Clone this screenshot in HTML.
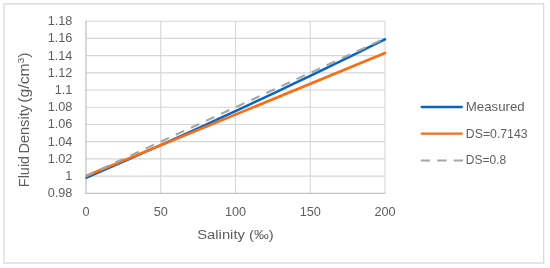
<!DOCTYPE html>
<html><head><meta charset="utf-8"><title>Fluid density vs salinity</title>
<style>
html,body{margin:0;padding:0;background:#fff;}
svg{display:block;}
text{font-family:"Liberation Sans",sans-serif;fill:#5e5e5e;}
.t{font-size:12.7px;}
.a{font-size:13.7px;}
.v{font-size:14.4px;}
.l{font-size:11.9px;}
</style></head><body>
<svg width="550" height="268" viewBox="0 0 550 268">
<rect width="550" height="268" fill="#fff"/>
<rect x="4" y="3.8" width="539.7" height="259.2" fill="#fff" stroke="#d9d9d9" stroke-width="1.3"/>
<line x1="86.0" y1="176.09" x2="385.0" y2="176.09" stroke="#d6d6d6" stroke-width="1.1"/>
<line x1="86.0" y1="158.88" x2="385.0" y2="158.88" stroke="#d6d6d6" stroke-width="1.1"/>
<line x1="86.0" y1="141.67" x2="385.0" y2="141.67" stroke="#d6d6d6" stroke-width="1.1"/>
<line x1="86.0" y1="124.46" x2="385.0" y2="124.46" stroke="#d6d6d6" stroke-width="1.1"/>
<line x1="86.0" y1="107.25" x2="385.0" y2="107.25" stroke="#d6d6d6" stroke-width="1.1"/>
<line x1="86.0" y1="90.04" x2="385.0" y2="90.04" stroke="#d6d6d6" stroke-width="1.1"/>
<line x1="86.0" y1="72.83" x2="385.0" y2="72.83" stroke="#d6d6d6" stroke-width="1.1"/>
<line x1="86.0" y1="55.62" x2="385.0" y2="55.62" stroke="#d6d6d6" stroke-width="1.1"/>
<line x1="86.0" y1="38.41" x2="385.0" y2="38.41" stroke="#d6d6d6" stroke-width="1.1"/>
<line x1="86.0" y1="21.20" x2="385.0" y2="21.20" stroke="#d6d6d6" stroke-width="1.1"/>
<line x1="160.75" y1="21.2" x2="160.75" y2="193.3" stroke="#d6d6d6" stroke-width="1.1"/>
<line x1="235.50" y1="21.2" x2="235.50" y2="193.3" stroke="#d6d6d6" stroke-width="1.1"/>
<line x1="310.25" y1="21.2" x2="310.25" y2="193.3" stroke="#d6d6d6" stroke-width="1.1"/>
<line x1="385.00" y1="21.2" x2="385.00" y2="193.3" stroke="#d6d6d6" stroke-width="1.1"/>
<line x1="86.0" y1="20.7" x2="86.0" y2="193.9" stroke="#c4c4c4" stroke-width="1.3"/>
<line x1="85.4" y1="193.3" x2="385.5" y2="193.3" stroke="#c4c4c4" stroke-width="1.3"/>
<defs><clipPath id="pc"><rect x="85.6" y="10" width="310" height="190"/></clipPath></defs><g clip-path="url(#pc)">
<polyline points="86.00,177.81 100.95,171.36 115.90,164.86 130.85,158.30 145.80,151.70 160.75,145.05 175.70,138.35 190.65,131.59 205.60,124.79 220.55,117.94 235.50,111.04 250.45,104.08 265.40,97.08 280.35,90.03 295.30,82.93 310.25,75.78 325.20,68.58 340.15,61.32 355.10,54.02 370.05,46.67 385.00,39.27" fill="none" stroke="#0866c3" stroke-width="2.5" stroke-linejoin="round" stroke-linecap="round"/>
<line x1="86.00" y1="176.09" x2="385.00" y2="53.04" stroke="#fc6c12" stroke-width="2.7" stroke-linecap="round"/>
<line x1="86.00" y1="176.09" x2="385.00" y2="38.41" stroke="#a5a5a5" stroke-width="2.1" stroke-dasharray="9.2 7.42" stroke-dashoffset="0.9"/>
</g>
<text transform="translate(72.4 197.30) scale(1 1)" text-anchor="end" class="t">0.98</text>
<text transform="translate(72.4 180.09) scale(1 1)" text-anchor="end" class="t">1</text>
<text transform="translate(72.4 162.88) scale(1 1)" text-anchor="end" class="t">1.02</text>
<text transform="translate(72.4 145.67) scale(1 1)" text-anchor="end" class="t">1.04</text>
<text transform="translate(72.4 128.46) scale(1 1)" text-anchor="end" class="t">1.06</text>
<text transform="translate(72.4 111.25) scale(1 1)" text-anchor="end" class="t">1.08</text>
<text transform="translate(72.4 94.04) scale(1 1)" text-anchor="end" class="t">1.1</text>
<text transform="translate(72.4 76.83) scale(1 1)" text-anchor="end" class="t">1.12</text>
<text transform="translate(72.4 59.62) scale(1 1)" text-anchor="end" class="t">1.14</text>
<text transform="translate(72.4 42.41) scale(1 1)" text-anchor="end" class="t">1.16</text>
<text transform="translate(72.4 25.20) scale(1 1)" text-anchor="end" class="t">1.18</text>
<text transform="translate(86.00 215.7) scale(1 1)" text-anchor="middle" class="t">0</text>
<text transform="translate(160.75 215.7) scale(1 1)" text-anchor="middle" class="t">50</text>
<text transform="translate(235.50 215.7) scale(1 1)" text-anchor="middle" class="t">100</text>
<text transform="translate(310.25 215.7) scale(1 1)" text-anchor="middle" class="t">150</text>
<text transform="translate(385.00 215.7) scale(1 1)" text-anchor="middle" class="t">200</text>
<text x="197.26" y="239.4" class="a" textLength="76.39" lengthAdjust="spacingAndGlyphs">Salinity (‰)</text>
<text transform="translate(28.9 187.18) rotate(-90)" class="v" textLength="31.34" lengthAdjust="spacingAndGlyphs">Fluid</text>
<text transform="translate(28.9 153.62) rotate(-90)" class="v" textLength="48.62" lengthAdjust="spacingAndGlyphs">Density</text>
<text transform="translate(28.9 102.74) rotate(-90)" class="v" textLength="50.28" lengthAdjust="spacingAndGlyphs">(g/cm<tspan dy="-4.8" font-size="9">3</tspan><tspan dy="4.8">)</tspan></text>
<line x1="421.7" y1="107" x2="461.8" y2="107" stroke="#0866c3" stroke-width="2.3" stroke-linecap="round"/>
<line x1="421.7" y1="133.7" x2="461.8" y2="133.7" stroke="#fc6c12" stroke-width="2.3" stroke-linecap="round"/>
<line x1="420.7" y1="160.5" x2="463" y2="160.5" stroke="#a5a5a5" stroke-width="2.2" stroke-dasharray="9.3 7.2"/>
<text x="465.82" y="110.7" class="l" textLength="58.92" lengthAdjust="spacingAndGlyphs">Measured</text>
<text x="465.87" y="137.5" class="l" textLength="61.74" lengthAdjust="spacingAndGlyphs">DS=0.7143</text>
<text x="465.89" y="164.0" class="l" textLength="40.31" lengthAdjust="spacingAndGlyphs">DS=0.8</text>
</svg>
</body></html>
